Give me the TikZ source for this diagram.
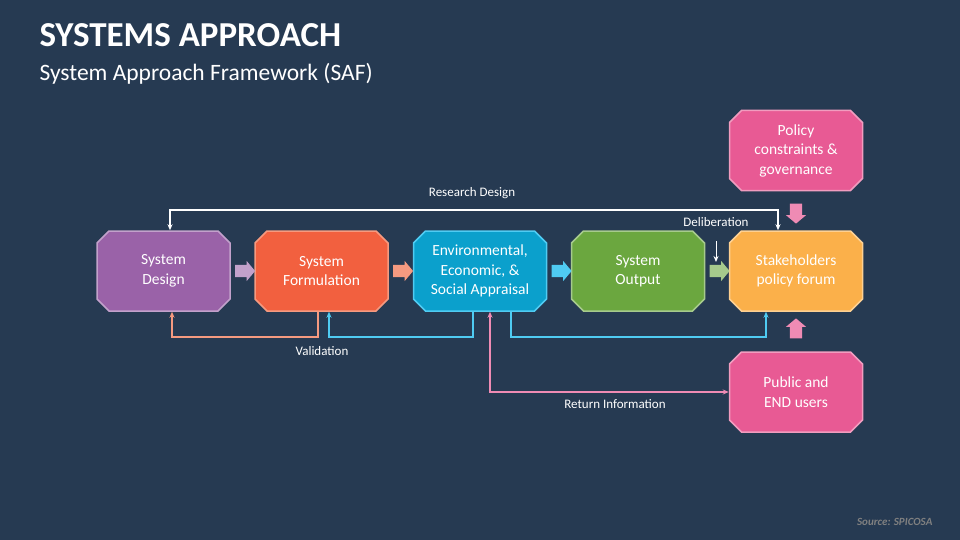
\documentclass[tikz,border=0pt]{standalone}
\usepackage{fontspec}
\setmainfont{Carlito}
\usetikzlibrary{shapes.misc,shapes.arrows,arrows.meta}
\definecolor{bgc}{HTML}{263A52}
\definecolor{cpurple}{HTML}{9A62A8}
\definecolor{corange}{HTML}{F2603F}
\definecolor{cblue}{HTML}{0BA0CC}
\definecolor{cgreen}{HTML}{6BA73F}
\definecolor{cyellow}{HTML}{FBB04A}
\definecolor{cpink}{HTML}{E85A94}
\definecolor{csalmon}{HTML}{F59A80}
\definecolor{clblue}{HTML}{4FCBF2}
\tikzset{
  stage/.style={chamfered rectangle,chamfered rectangle xsep=6pt,chamfered rectangle ysep=6pt,
    minimum width=133pt,minimum height=80pt,inner sep=2pt,line width=1.5pt,
    text=white,align=center,font=\fontsize{15.5}{19.5}\selectfont},
  blk/.style={single arrow,single arrow head extend=4pt,single arrow head indent=0pt,
    single arrow tip angle=100,minimum height=20pt,inner sep=0pt,draw=none},
  lnk/.style={line width=1.3pt,-{Stealth[length=6pt,width=5pt]}},
  lbl/.style={text=white,font=\fontsize{13}{15}\selectfont}
}
\newcommand{\blkfill}{\rule{0pt}{12pt}}
\newcommand{\blkfillv}{\rule{12pt}{0pt}}
\begin{document}
\begin{tikzpicture}[x=1pt,y=-1pt]
\fill[bgc] (0,0) rectangle (960,540);
\useasboundingbox (0,0) rectangle (960,540);
\node[anchor=west,text=white,font=\bfseries\fontsize{35}{40}\selectfont] (title) at (36,35) {SYSTEMS APPROACH};
\node[anchor=west,text=white,font=\fontsize{23.5}{28}\selectfont] (sub) at (36,74) {System Approach Framework (SAF)};
\node[anchor=east,text=gray,font=\bfseries\itshape\fontsize{11}{13}\selectfont] (src) at (936,522) {Source: SPICOSA};
% main boxes
\node[stage,fill=cpurple,draw=cpurple!60!white] (design) at (163.5,271) {System\\Design};
\node[stage,fill=corange,draw=csalmon] (form) at (321.5,271) {System\\Formulation};
\node[stage,fill=cblue,draw=clblue] (env) at (480,271) {Environmental,\\Economic, \&\\Social Appraisal};
\node[stage,fill=cgreen,draw=cgreen!60!white] (output) at (638,271) {System\\Output};
\node[stage,fill=cyellow,draw=cyellow!60!white] (stake) at (796,271) {Stakeholders\\policy forum};
\node[stage,fill=cpink,draw=cpink!60!white] (policy) at (796,150.5) {Policy\\constraints \&\\governance};
\node[stage,fill=cpink,draw=cpink!60!white] (public) at (796,392) {Public and\\END users};
% block arrows
\node[blk,fill=cpurple!60!white] (a1) at (242.5,271) {\blkfill};
\node[blk,fill=csalmon] (a2) at (400.5,271) {\blkfill};
\node[blk,fill=clblue] (a3) at (559,271) {\blkfill};
\node[blk,fill=cgreen!60!white] (a4) at (717,271) {\blkfill};
\node[blk,fill=cpink!70!white,shape border rotate=270] (a5) at (796,211) {\blkfillv};
\node[blk,fill=cpink!70!white,shape border rotate=90] (a6) at (796,331) {\blkfillv};
% connectors
\draw[lnk,white,{Stealth[length=6pt,width=5pt]}-{Stealth[length=6pt,width=5pt]}] (design.north -| 170,0) |- (472,210) -| (stake.north -| 778,0);
\node[lbl] (rd) at (472,193) {Research Design};
\coordinate (delib) at (716,241);
\draw[lnk,white,line width=1pt] (delib) -- (716,262);
\node[lbl] (dl) at (716,222) {Deliberation};
\draw[lnk,csalmon] (form.south -| 318,0) |- (245,337) -| (design.south -| 172,0);
\draw[lnk,clblue] (env.south -| 473,0) |- (400,337) -| (form.south -| 329,0);
\draw[lnk,clblue] (env.south -| 511,0) |- (640,337) -| (stake.south -| 766,0);
\node[lbl] (val) at (322,351) {Validation};
\draw[lnk,cpink!70!white,{Stealth[length=6pt,width=5pt]}-{Stealth[length=6pt,width=5pt]}] (env.south -| 490,0) |- (public.west);
\node[lbl] (ri) at (615,404) {Return Information};
\end{tikzpicture}
\end{document}
